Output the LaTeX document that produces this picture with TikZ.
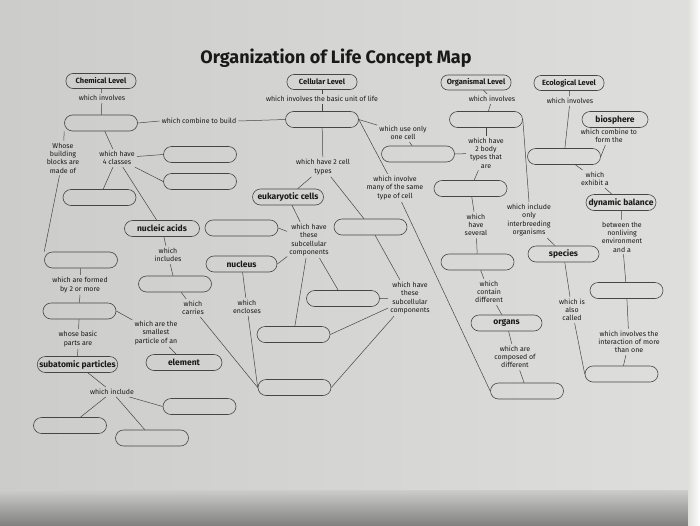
\documentclass[tikz,border=0pt]{standalone}
\usepackage{fontspec}
\setmainfont{Fira Sans}
\definecolor{ink}{RGB}{70,70,70}
\definecolor{txt}{RGB}{25,25,25}
\definecolor{paperl}{RGB}{204,204,202}
\definecolor{paperr}{RGB}{222,222,220}
\definecolor{floor}{RGB}{130,130,128}
\begin{document}
\begin{tikzpicture}[x=1pt,y=-1pt,text=txt,
	lvl/.style={draw=ink,rounded corners=7pt,line width=0.6pt,minimum width=70pt,minimum height=15pt,inner sep=1pt,font=\bfseries\fontsize{7.5}{8}\selectfont},
	blank/.style={draw=ink,rounded corners=8pt,line width=0.6pt,minimum width=73pt,minimum height=16pt,inner sep=0pt},
	term/.style={blank,minimum width=71pt,inner sep=2pt,font=\bfseries\fontsize{8.5}{9}\selectfont},
	lbl/.style={align=center,inner sep=2pt,font=\fontsize{7}{8.3}\selectfont},
	link/.style={draw=ink,line width=0.5pt}]
	\useasboundingbox (0,0) rectangle (700,525);
	\shade[left color=paperl,right color=paperr] (0,0) rectangle (688,490);
	\shade[top color=paperl,bottom color=floor] (0,490) rectangle (688,525);
	\shade[left color=paperr,right color=white] (688,0) rectangle (700,525);

	\node[font=\bfseries\fontsize{18}{21}\selectfont] (title) at (336,58) {Organization of Life Concept Map};

	\node[lvl] (chem) at (101,81) {Chemical Level};
	\node[lvl] (cell) at (322,82) {Cellular Level};
	\node[lvl] (org) at (476,82.5) {Organismal Level};
	\node[lvl] (eco) at (569,83) {Ecological Level};

	\node[blank] (c1) at (101,123) {};
	\node[blank] (c2) at (200,154.5) {};
	\node[blank] (c3) at (200,181.5) {};
	\node[blank] (cbel) at (99.5,197.5) {};
	\node[blank] (c4) at (81,260) {};
	\node[blank] (c5) at (79.5,311) {};
	\node[blank] (cdna) at (175,284) {};
	\node[blank] (n1) at (241.5,228) {};
	\node[blank] (s1) at (70,425.5) {};
	\node[blank] (s2) at (152,438) {};
	\node[blank] (s3) at (199.5,406.5) {};
	\node[blank] (u1) at (322,119.5) {};
	\node[blank] (cb2) at (370.5,227) {};
	\node[blank] (cb3) at (343,298.5) {};
	\node[blank] (cb4) at (293.5,334.5) {};
	\node[blank] (cbot) at (294.5,387.5) {};
	\node[blank] (uni) at (418,154) {};
	\node[blank] (o1) at (486,119.5) {};
	\node[blank] (multi) at (470.5,188.5) {};
	\node[blank] (o3) at (477.5,262) {};
	\node[blank] (ob) at (527,391) {};
	\node[blank] (e1) at (564,156.5) {};
	\node[blank] (e2) at (626.5,290.5) {};
	\node[blank] (ebot) at (621.5,374) {};

	\node[term] (euk) at (288,197) {eukaryotic cells};
	\node[term,minimum width=75pt] (nucleic) at (162,228.5) {nucleic acids};
	\node[term] (nucleus) at (241.5,264) {nucleus};
	\node[term] (subat) at (77.5,364.5) {subatomic particles};
	\node[term,minimum width=76pt] (element) at (184,362.5) {element};
	\node[term] (organs) at (506.5,323) {organs};
	\node[term] (species) at (563.5,254) {species};
	\node[term,minimum width=66pt] (bio) at (615,119.5) {biosphere};
	\node[term,minimum width=70pt] (dyn) at (621,202.5) {dynamic balance};

	\node[lbl] (tchem) at (102,98) {which involves};
	\node[lbl] (tbuild) at (199,121) {which combine to build};
	\node[lbl] (twhose) at (63,158) {Whose\\building\\blocks are\\made of};
	\node[lbl] (tclass) at (117,158) {which have\\4 classes};
	\node[lbl] (tincl) at (168,255) {which\\includes};
	\node[lbl] (tcarry) at (193,308) {which\\carries};
	\node[lbl] (tencl) at (247,307) {which\\encloses};
	\node[lbl] (tformed) at (80,285) {which are formed\\by 2 or more};
	\node[lbl] (tbasic) at (78,339) {whose basic\\parts are};
	\node[lbl] (tsmall) at (156,333) {which are the\\smallest\\particle of an};
	\node[lbl] (tinclude) at (112,392) {which include};
	\node[lbl] (tcell) at (322,99) {which involves the basic unit of life};
	\node[lbl] (ttypes) at (323,167) {which have 2 cell\\types};
	\node[lbl] (tone) at (403,133) {which use only\\one cell};
	\node[lbl] (tmany) at (395,188) {which involve\\many of the same\\type of cell};
	\node[lbl] (tsubl) at (309,240) {which have\\these\\subcellular\\components};
	\node[lbl] (tsubr) at (410,298) {which have\\these\\subcellular\\components};
	\node[lbl] (torg) at (492,99) {which involves};
	\node[lbl] (tbody) at (486,153) {which have\\2 body\\types that\\are};
	\node[lbl] (tsev) at (476,225) {which\\have\\several};
	\node[lbl] (tcont) at (489,292) {which\\contain\\different};
	\node[lbl] (tcomp) at (515,357) {which are\\composed of\\different};
	\node[lbl] (tinter) at (529,220) {which include\\only\\interbreeding\\organisms};
	\node[lbl] (tcalled) at (572,310) {which is\\also\\called};
	\node[lbl] (teco) at (570,101) {which involves};
	\node[lbl] (tform) at (609,136) {which combine to\\form the};
	\node[lbl] (texh) at (595,179) {which\\exhibit a};
	\node[lbl] (tbetw) at (622,237) {between the\\nonliving\\environment\\and a};
	\node[lbl] (tact) at (629,342) {which involves the\\interaction of more\\than one};

	\draw[link] (chem) -- (tchem) -- (c1);
	\draw[link] (c1.east) -- (tbuild.west);
	\draw[link] (tbuild.east) -- (u1.west);
	\draw[link] (c1.south west) -- (twhose);
	\draw[link] (twhose) -- (c4.north west);
	\draw[link] (c1) -- (tclass);
	\draw[link] (tclass) -- (c2.west);
	\draw[link] (tclass) -- (c3.west);
	\draw[link] (tclass) -- (cbel);
	\draw[link] (tclass) -- (nucleic);
	\draw[link] (nucleic) -- (tincl) -- (cdna);
	\draw[link] (cdna) -- (tcarry) -- (cbot.west);
	\draw[link] (nucleus) -- (tencl) -- (cbot.west);
	\draw[link] (c4) -- (tformed) -- (c5);
	\draw[link] (c5) -- (tbasic) -- (subat);
	\draw[link] (c5.east) -- (tsmall) -- (element);
	\draw[link] (subat) -- (tinclude);
	\draw[link] (tinclude) -- (s1);
	\draw[link] (tinclude) -- (s2);
	\draw[link] (tinclude) -- (s3.west);

	\draw[link] (cell) -- (tcell) -- (u1);
	\draw[link] (u1) -- (ttypes);
	\draw[link] (ttypes) -- (euk);
	\draw[link] (ttypes) -- (cb2);
	\draw[link] (u1.east) -- (tone) -- (uni);
	\draw[link] (u1.east) -- (tmany);
	\draw[link] (tmany) -- (ob.west);
	\draw[link] (euk) -- (tsubl);
	\draw[link] (tsubl) -- (n1.east);
	\draw[link] (tsubl) -- (nucleus.east);
	\draw[link] (tsubl) -- (cb3);
	\draw[link] (tsubl) -- (cb4);
	\draw[link] (cb2) -- (tsubr);
	\draw[link] (tsubr) -- (cb3.east);
	\draw[link] (tsubr) -- (cb4.east);
	\draw[link] (tsubr) -- (cbot.east);

	\draw[link] (org) -- (torg) -- (o1);
	\draw[link] (o1) -- (tbody);
	\draw[link] (tbody) -- (uni.east);
	\draw[link] (tbody) -- (multi);
	\draw[link] (multi) -- (tsev) -- (o3);
	\draw[link] (o3) -- (tcont) -- (organs);
	\draw[link] (organs) -- (tcomp) -- (ob);
	\draw[link] (o1.east) -- (tinter.north);
	\draw[link] (tinter) -- (species);
	\draw[link] (species) -- (tcalled) -- (ebot.west);

	\draw[link] (eco) -- (teco) -- (e1);
	\draw[link] (tform) -- (e1.east);
	\draw[link] (e1) -- (texh) -- (dyn);
	\draw[link] (dyn) -- (tbetw) -- (e2);
	\draw[link] (e2) -- (tact) -- (ebot);
\end{tikzpicture}
\end{document}
